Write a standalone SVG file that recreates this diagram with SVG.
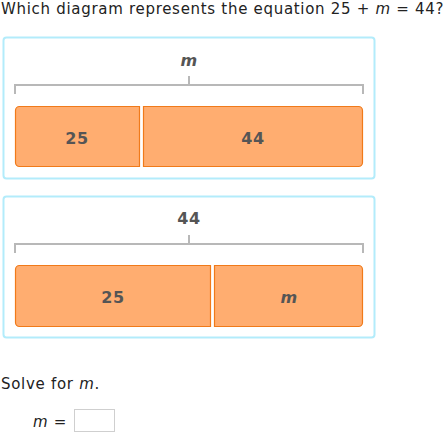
<svg xmlns="http://www.w3.org/2000/svg" width="443" height="433" viewBox="0 0 443 433">
<style>
.t{font-family:"DejaVu Sans",Verdana,sans-serif;font-size:15px;fill:#222;letter-spacing:0.7px}
.lb{font-family:"DejaVu Sans",Verdana,sans-serif;font-size:16px;font-weight:bold;fill:#555;text-anchor:middle;letter-spacing:0.5px}
.frame{fill:#fff;stroke:#b3ecfb;stroke-width:2}
.bar{fill:#ffad70;stroke:#f07a1a;stroke-width:1.2}
.br{fill:none;stroke:#b8b8b8;stroke-width:2}
.in{fill:#fff;stroke:#cfcfcf;stroke-width:1}
</style>
<text class="t" x="1" y="14">Which diagram represents the equation 25 + <tspan font-style="italic">m</tspan> = 44?</text>
<g id="diagram1">
<rect class="frame" x="3.5" y="37.5" width="371" height="141" rx="3"/>
<text class="lb" x="189" y="66" font-style="italic">m</text>
<path class="br" d="M15 94V85H363V94M189 76V85"/>
<path class="bar" d="M139.5 106.5V166.5H19.5A4 4 0 0 1 15.5 162.5V110.5A4 4 0 0 1 19.5 106.5Z"/>
<text class="lb" x="77" y="144">25</text>
<path class="bar" d="M143.5 106.5H358.5A4 4 0 0 1 362.5 110.5V162.5A4 4 0 0 1 358.5 166.5H143.5Z"/>
<text class="lb" x="253" y="144">44</text>
</g>
<g id="diagram2">
<rect class="frame" x="3.5" y="196.5" width="371" height="141" rx="3"/>
<text class="lb" x="189" y="224">44</text>
<path class="br" d="M15 253V244H363V253M189 235V244"/>
<path class="bar" d="M210.5 265.5V326.5H19.5A4 4 0 0 1 15.5 322.5V269.5A4 4 0 0 1 19.5 265.5Z"/>
<text class="lb" x="113" y="303">25</text>
<path class="bar" d="M214.5 265.5H358.5A4 4 0 0 1 362.5 269.5V322.5A4 4 0 0 1 358.5 326.5H214.5Z"/>
<text class="lb" x="289" y="303" font-style="italic">m</text>
</g>
<text class="t" x="1" y="389">Solve for <tspan font-style="italic">m</tspan>.</text>
<text class="t" x="33" y="427"><tspan font-style="italic">m</tspan> =</text>
<rect class="in" x="74.5" y="409.5" width="40" height="22"/>
</svg>
